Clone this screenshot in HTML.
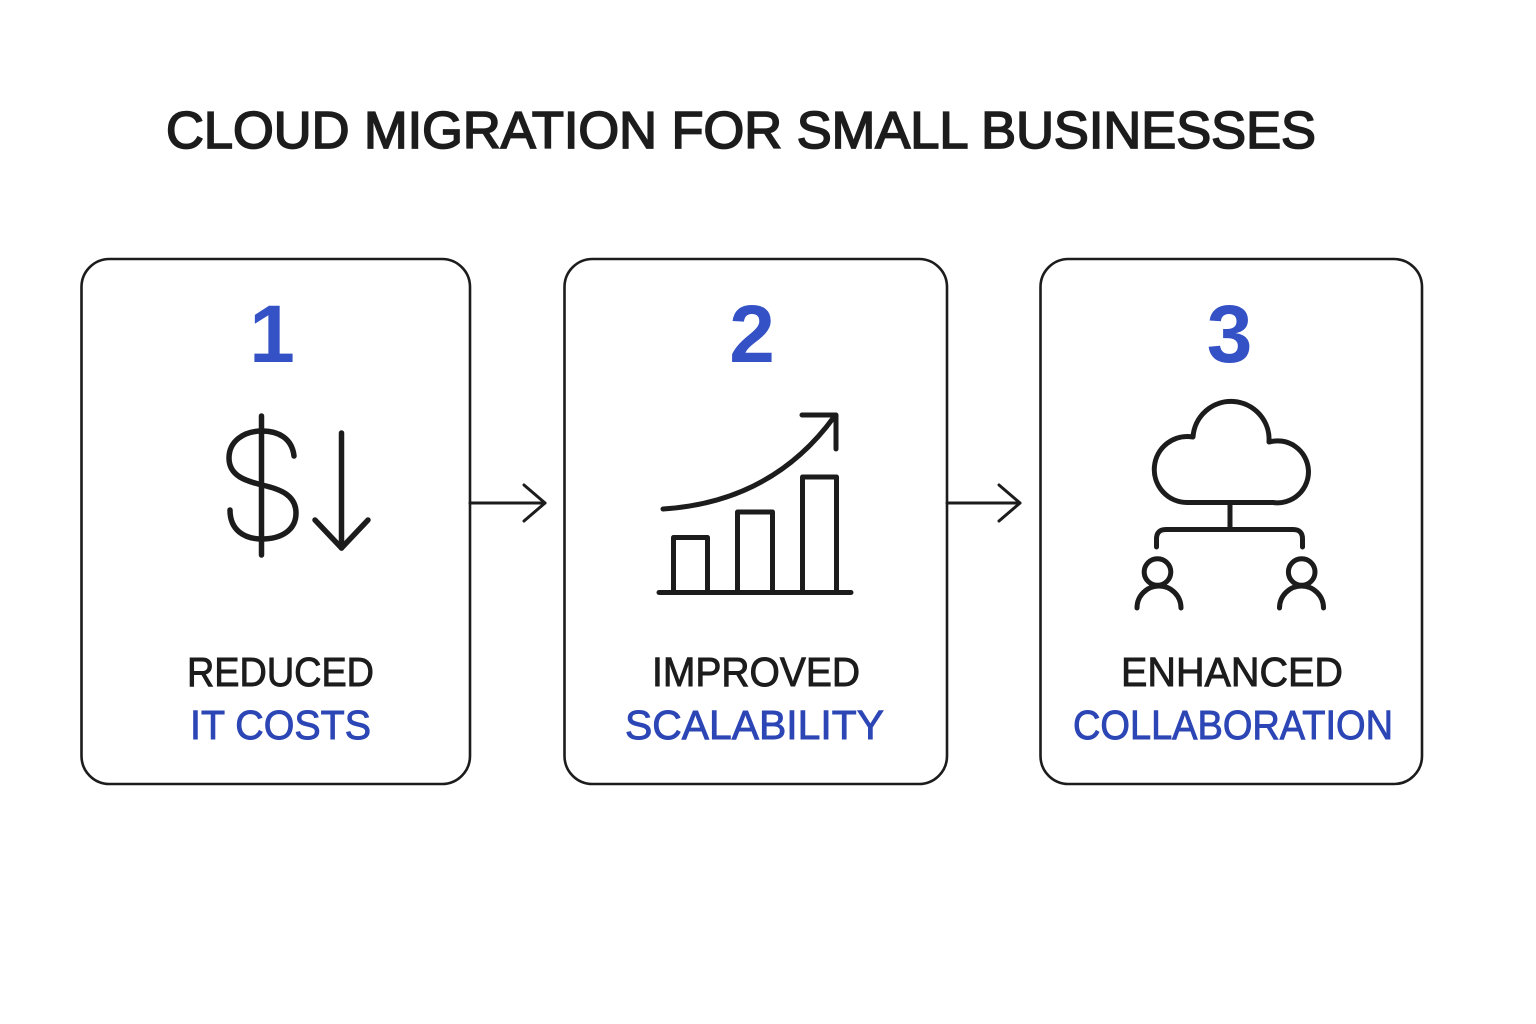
<!DOCTYPE html>
<html><head><meta charset="utf-8"><style>
html,body{margin:0;padding:0;background:#fff;}
svg{display:block;}
</style></head><body>
<svg width="1536" height="1024" viewBox="0 0 1536 1024" xmlns="http://www.w3.org/2000/svg">
<rect width="1536" height="1024" fill="#ffffff"/>
<text x="166" y="148" font-family="Liberation Sans, Arial, sans-serif" font-size="52" fill="#1c1c1c" stroke="#1c1c1c" stroke-width="1.7" textLength="1150" lengthAdjust="spacingAndGlyphs">CLOUD MIGRATION FOR SMALL BUSINESSES</text>

<g fill="none" stroke="#1c1c1c" stroke-width="2.6">
<rect x="81.5" y="259" width="388.5" height="525" rx="28"/>
<rect x="564.5" y="259" width="382.5" height="525" rx="28"/>
<rect x="1040.5" y="259" width="381.5" height="525" rx="28"/>
</g>

<g fill="none" stroke="#1c1c1c" stroke-width="3" stroke-linecap="round" stroke-linejoin="round">
<line x1="470" y1="503" x2="545" y2="503"/>
<polyline points="524,485 545,503 524,521"/>
<line x1="947" y1="503" x2="1020" y2="503"/>
<polyline points="999,485 1020,503 999,521"/>
</g>

<g font-family="Liberation Sans, Arial, sans-serif" font-weight="bold" font-size="82" fill="#3451c6" text-anchor="middle">
<text x="272" y="362">1</text>
<text x="752" y="362">2</text>
<text x="1229.5" y="362">3</text>
</g>

<!-- Icon 1 -->
<g fill="none" stroke="#1c1c1c" stroke-width="5.5" stroke-linecap="round" stroke-linejoin="round">
<line x1="261.5" y1="416" x2="261.5" y2="555"/>
<path d="M294,456 C292,438 278,431 262,431 C244,431 229,441 229,458 C229,476 246,481 262,485 C280,489 296,495 296,513 C296,531 280,539 262,539 C244,539 230,530 230,510"/>
<line x1="341.5" y1="433" x2="341.5" y2="548"/>
<polyline points="315,520 341.5,548 368,520"/>
</g>

<!-- Icon 2 -->
<g fill="none" stroke="#1c1c1c" stroke-width="5" stroke-linecap="round" stroke-linejoin="round">
<line x1="659" y1="592.5" x2="851" y2="592.5"/>
<polyline points="673.5,592 673.5,537.5 707.5,537.5 707.5,592"/>
<polyline points="737.5,592 737.5,512 772.5,512 772.5,592"/>
<polyline points="802.5,592 802.5,477 836.5,477 836.5,592"/>
<path d="M663,509 Q772,502 834,417"/>
<polyline points="802,415 836,415 836,449"/>
</g>

<!-- Icon 3 -->
<g fill="none" stroke="#1c1c1c" stroke-width="5" stroke-linecap="round" stroke-linejoin="round">
<path d="M1187,502.5 A33,33 0 1 1 1193,437 A38,38 0 0 1 1269,442 A31,31 0 1 1 1273,502.5 Z"/>
<line x1="1230" y1="503" x2="1230" y2="529"/>
<path d="M1156.5,547 L1156.5,539 Q1156.5,529.5 1166,529.5 L1293,529.5 Q1302.5,529.5 1302.5,539 L1302.5,547"/>
<circle cx="1157.5" cy="572" r="13.3"/>
<path d="M1137,608 A22,22 0 0 1 1181,608"/>
<circle cx="1301.7" cy="572" r="13.3"/>
<path d="M1279.5,608 A22,22 0 0 1 1323.5,608"/>
</g>

<g font-family="Liberation Sans, Arial, sans-serif" font-size="41" stroke-width="0.9">
<text x="187" y="686" fill="#1c1c1c" stroke="#1c1c1c" textLength="187" lengthAdjust="spacingAndGlyphs">REDUCED</text>
<text x="190" y="739" fill="#2c46b6" stroke="#2c46b6" textLength="181" lengthAdjust="spacingAndGlyphs">IT COSTS</text>
<text x="652" y="686" fill="#1c1c1c" stroke="#1c1c1c" textLength="208" lengthAdjust="spacingAndGlyphs">IMPROVED</text>
<text x="625" y="739" fill="#2c46b6" stroke="#2c46b6" textLength="259" lengthAdjust="spacingAndGlyphs">SCALABILITY</text>
<text x="1121" y="686" fill="#1c1c1c" stroke="#1c1c1c" textLength="222" lengthAdjust="spacingAndGlyphs">ENHANCED</text>
<text x="1073" y="739" fill="#2c46b6" stroke="#2c46b6" textLength="320" lengthAdjust="spacingAndGlyphs">COLLABORATION</text>
</g>
</svg>
</body></html>
